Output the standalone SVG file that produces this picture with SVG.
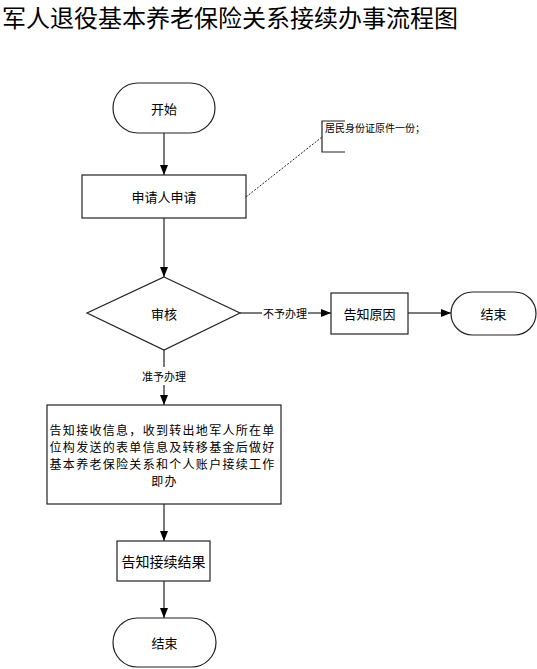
<svg xmlns="http://www.w3.org/2000/svg" width="537" height="669" viewBox="0 0 537 669">
<style>
text{font-family:"Noto Sans CJK SC","Liberation Sans",sans-serif;fill:#000}
.t{font-size:13px;text-anchor:middle;dominant-baseline:central}
.l{font-size:11px;text-anchor:middle;dominant-baseline:central}
.shape{fill:#fff;stroke:#222;stroke-width:1.2}
.c{fill:none;stroke:#7a7a7a;stroke-width:2}
</style>
<defs>
<marker id="ah" viewBox="0 0 10 8" refX="10" refY="4" markerWidth="10" markerHeight="8" markerUnits="userSpaceOnUse" orient="auto">
<path d="M0,0 L10,4 L0,8 Z" fill="#000"/>
</marker>
</defs>
<rect width="537" height="669" fill="#fff"/>
<text x="2" y="27" style="font-size:24px">军人退役基本养老保险关系接续办事流程图</text>

<g id="connectors">
<line class="c" x1="164" y1="133" x2="164" y2="175" marker-end="url(#ah)"/>
<line class="c" x1="164" y1="218" x2="164" y2="277" marker-end="url(#ah)"/>
<polyline class="c" points="240,313 262,313"/>
<polyline class="c" points="308,313 331,313" marker-end="url(#ah)"/>
<line class="c" x1="408" y1="313" x2="451" y2="313" marker-end="url(#ah)"/>
<line class="c" x1="164" y1="350" x2="164" y2="367"/>
<line class="c" x1="164" y1="385" x2="164" y2="405" marker-end="url(#ah)"/>
<line class="c" x1="164" y1="504" x2="164" y2="541" marker-end="url(#ah)"/>
<line class="c" x1="164" y1="581" x2="164" y2="618" marker-end="url(#ah)"/>
<line x1="246" y1="197" x2="322" y2="137" stroke="#222" stroke-width="1" stroke-dasharray="2,1.5"/>
<text class="l" x="285" y="313">不予办理</text>
<text class="l" x="164" y="376">准予办理</text>
</g>

<g id="start">
<rect class="shape" x="113" y="83" width="102" height="50" rx="25"/>
<text class="t" x="164" y="108">开始</text>
</g>
<g id="apply">
<rect class="shape" x="82" y="175" width="164" height="43"/>
<text class="t" x="164" y="196.5">申请人申请</text>
</g>
<g id="note">
<polyline points="345,121 322,121 322,152 345,152" fill="none" stroke="#222" stroke-width="1.2"/>
<text x="325" y="127" style="font-size:10px;dominant-baseline:central">居民身份证原件一份；</text>
</g>
<g id="review">
<polygon class="shape" points="164,277 240,313 164,350 87,313"/>
<text class="t" x="164" y="313">审核</text>
</g>
<g id="reason">
<rect class="shape" x="331" y="293" width="77" height="41"/>
<text class="t" x="369.5" y="313.5">告知原因</text>
</g>
<g id="end1">
<rect class="shape" x="451" y="292" width="85" height="43" rx="21.5"/>
<text class="t" x="493.5" y="313.5">结束</text>
</g>
<g id="process">
<rect class="shape" x="47" y="405" width="234" height="99"/>
<text class="t" style="font-size:12px;letter-spacing:1.3px">
<tspan x="164.6" y="429">告知接收信息，收到转出地军人所在单</tspan>
<tspan x="164.6" y="446">位构发送的表单信息及转移基金后做好</tspan>
<tspan x="164.6" y="463">基本养老保险关系和个人账户接续工作</tspan>
<tspan x="164.6" y="480">即办</tspan>
</text>
</g>
<g id="result">
<rect class="shape" x="117" y="541" width="93" height="40"/>
<text class="t" x="163.5" y="561" style="font-size:14px">告知接续结果</text>
</g>
<g id="end2">
<rect class="shape" x="113" y="618" width="103" height="49" rx="24.5"/>
<text class="t" x="164.5" y="642.5">结束</text>
</g>
</svg>
